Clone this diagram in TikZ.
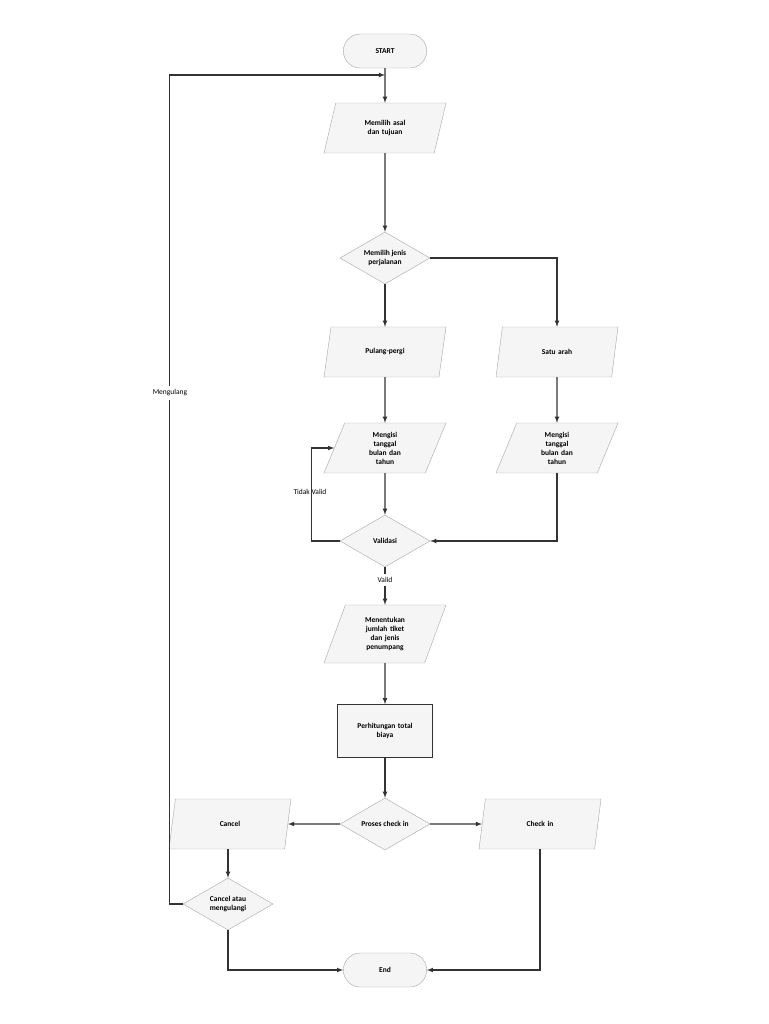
\documentclass[tikz,border=0pt]{standalone}
\usepackage{fontspec}
\setmainfont{Carlito}
\usetikzlibrary{shapes, arrows, calc, positioning}
\tikzset{
  box/.style={draw=gray!70, fill=gray!8, font=\fontsize{7.5}{9}\selectfont\bfseries, align=center},
  io/.style={box, trapezium, trapezium left angle=62, trapezium right angle=118, trapezium stretches body, minimum width=122pt, minimum height=50pt, text width=55pt},
  dec/.style={box, diamond, aspect=1.75, minimum width=90pt, minimum height=52pt, inner sep=0pt},
  term/.style={box, rounded rectangle, minimum width=90pt, minimum height=34pt},
  proc/.style={box, draw=black!80, minimum width=95pt, minimum height=53pt, text width=75pt},
  line/.style={draw=black!80, line width=1.1pt},
  arr/.style={line, -latex},
  lbl/.style={font=\fontsize{7.5}{9}\selectfont}
}
\begin{document}
\begin{tikzpicture}[x=1pt, y=-1pt]
    \useasboundingbox (0,0) rectangle (768,1024);
    \node[term] (q_0) at (385,51) {START};
    \node[io] (q_1) at (385,128) {Memilih asal\\dan tujuan};
    \node[dec] (q_2) at (385,258) {Memilih jenis\\perjalanan};
    \node[io] (q_3) at (385,352) {Pulang-pergi};
    \node[io] (q_4) at (557,352) {Satu arah};
    \node[io] (q_5) at (385,448) {Mengisi\\tanggal\\bulan dan\\tahun};
    \node[io] (q_6) at (557,448) {Mengisi\\tanggal\\bulan dan\\tahun};
    \node[dec] (q_7) at (385,541) {Validasi};
    \node[io, minimum height=58pt] (q_8) at (385,634) {Menentukan\\jumlah tiket\\dan jenis\\penumpang};
    \node[proc] (q_9) at (385,731) {Perhitungan total\\biaya};
    \node[dec] (q_10) at (385,824) {Proses check in};
    \node[io] (q_11) at (230,824) {Cancel};
    \node[io] (q_12) at (540,824) {Check in};
    \node[dec] (q_13) at (228,904) {Cancel atau\\mengulangi};
    \node[term] (q_14) at (385,970) {End};
    \coordinate (loop_top) at (385,75);

    \path[arr] (q_0) -- (q_1);
    \path[arr] (q_1) -- (q_2);
    \path[arr] (q_2) -- (q_3);
    \path[arr] (q_2.east) -| (q_4.north);
    \path[arr] (q_3) -- (q_5);
    \path[arr] (q_4) -- (q_6);
    \path[arr] (q_5) -- (q_7);
    \path[arr] (q_6.south) |- (q_7.east);
    \path[arr] (q_7.west) -- ++(-28,0) |- (q_5.west);
    \path[arr] (q_7) -- node[lbl, fill=white, pos=0.35] (l_valid) {Valid} (q_8);
    \path[arr] (q_8) -- (q_9);
    \path[arr] (q_9) -- (q_10);
    \path[arr] (q_10) -- (q_11);
    \path[arr] (q_10) -- (q_12);
    \path[arr] (q_11.south -| q_13) -- (q_13);
    \path[arr] (q_13.south) |- (q_14.west);
    \path[arr] (q_12.south) |- (q_14.east);
    \path[arr] (q_13.west) -- ++(-13,0) |- (loop_top);
    \node[lbl] (l_tidak) at (310,492) {Tidak Valid};
    \node[lbl, fill=white] (l_ulang) at (170,393) {Mengulang};
\end{tikzpicture}
\end{document}
